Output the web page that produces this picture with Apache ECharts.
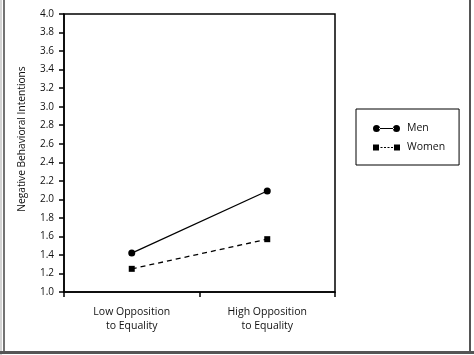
<!DOCTYPE html>
<html>
<head>
<meta charset="utf-8">
<script src="https://cdn.jsdelivr.net/npm/echarts@6/dist/echarts.min.js"></script>
<style>
  html, body { margin: 0; padding: 0; background: #fff; }
  #chart { width: 474px; height: 355px; }
</style>
</head>
<body>
<div id="chart"></div>
<script>
// data
const categories = ['Low Opposition\nto Equality', 'High Opposition\nto Equality'];
const menValues = [1.42, 2.09];
const womenValues = [1.25, 1.57];
const yTitle = 'Negative Behavioral Intentions';

const font = 'Open Sans';
const menIcon = 'path://M0,3.5A3.5,3.5 0 1,0 7,3.5A3.5,3.5 0 1,0 0,3.5ZM6,3L21,3L21,4L6,4ZM20,3.5A3.5,3.5 0 1,0 27,3.5A3.5,3.5 0 1,0 20,3.5Z';
const womenIcon = 'path://M0,0.5L6,0.5L6,6.5L0,6.5ZM7.5,3L9.5,3L9.5,4L7.5,4ZM11,3L13,3L13,4L11,4ZM14.5,3L16.5,3L16.5,4L14.5,4ZM18,3L20,3L20,4L18,4ZM21,0.5L27,0.5L27,6.5L21,6.5Z';

let myChart = echarts.init(document.getElementById('chart'));

myChart.setOption({
    animation: false,
    textStyle: { fontFamily: font },
    grid: {
        left: 64, top: 14, right: 139, bottom: 63,
        show: true, borderColor: '#000', borderWidth: 1.5
    },
    legend: {
        orient: 'vertical',
        left: 356, top: 109,
        padding: [14, 14, 12, 17],
        itemGap: 8,
        itemWidth: 27, itemHeight: 7,
        borderColor: '#000', borderWidth: 1,
        textStyle: { fontSize: 10.5, color: '#111', fontFamily: font, padding: [0, 0, 0, 2] },
        data: [
            { name: 'Men', icon: menIcon },
            { name: 'Women', icon: womenIcon }
        ]
    },
    xAxis: {
        type: 'category',
        data: categories,
        boundaryGap: true,
        axisLine: { lineStyle: { color: '#000', width: 1.5 } },
        axisTick: { show: true, length: 5, lineStyle: { color: '#000', width: 1.5 } },
        axisLabel: { color: '#111', fontSize: 10.5, lineHeight: 14, margin: 13 },
        splitLine: { show: false }
    },
    yAxis: {
        type: 'value',
        min: 1, max: 4, interval: 0.2,
        axisLine: { show: true, lineStyle: { color: '#000', width: 1.5 } },
        axisTick: { show: true, length: 5, lineStyle: { color: '#000', width: 1.5 } },
        axisLabel: {
            color: '#111', fontSize: 10, margin: 10,
            formatter: v => v.toFixed(1)
        },
        splitLine: { show: false }
    },
    graphic: [
        {
            type: 'text', x: 22, y: 139, rotation: Math.PI / 2,
            style: {
                text: yTitle, fontSize: 10.2, fill: '#111', fontFamily: font,
                align: 'center', verticalAlign: 'middle'
            }
        },
        // scanned page frame
        { type: 'line', shape: { x1: 1, y1: 0, x2: 1, y2: 355 }, style: { stroke: '#aaa', lineWidth: 1 } },
        { type: 'line', shape: { x1: 4, y1: 0, x2: 4, y2: 352 }, style: { stroke: '#444', lineWidth: 1.5 } },
        { type: 'line', shape: { x1: 470, y1: 0, x2: 470, y2: 352 }, style: { stroke: '#555', lineWidth: 2 } },
        { type: 'line', shape: { x1: 0, y1: 352.5, x2: 474, y2: 352.5 }, style: { stroke: '#555', lineWidth: 3 } }
    ],
    series: [
        {
            name: 'Men', type: 'line', data: menValues,
            symbol: 'circle', symbolSize: 7,
            itemStyle: { color: '#000' },
            lineStyle: { color: '#000', width: 1.3, type: 'solid' }
        },
        {
            name: 'Women', type: 'line', data: womenValues,
            symbol: 'rect', symbolSize: 6,
            itemStyle: { color: '#000' },
            lineStyle: { color: '#000', width: 1.3, type: [5, 4] }
        }
    ]
});
</script>
</body>
</html>
